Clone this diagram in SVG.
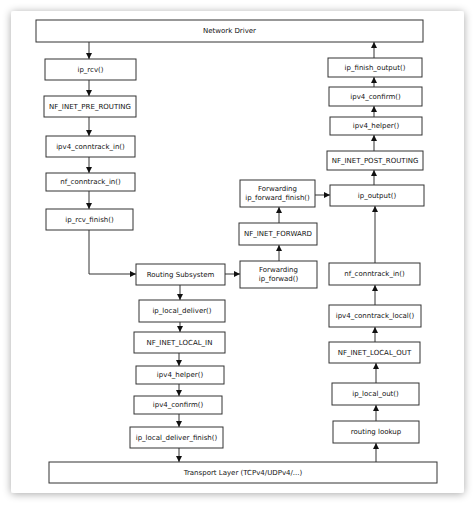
<svg xmlns="http://www.w3.org/2000/svg" width="474" height="505" viewBox="0 0 474 505">
<defs>
<filter id="sh" x="-5%" y="-5%" width="110%" height="110%">
<feGaussianBlur in="SourceAlpha" stdDeviation="4"/>
<feOffset dx="0" dy="1" result="b"/>
<feComponentTransfer><feFuncA type="linear" slope="0.35"/></feComponentTransfer>
<feMerge><feMergeNode/><feMergeNode in="SourceGraphic"/></feMerge>
</filter>
<marker id="ah" viewBox="0 0 8 8" refX="8" refY="4" markerWidth="6" markerHeight="6" markerUnits="userSpaceOnUse" orient="auto">
<path d="M0,0 L8,4 L0,8 z" fill="#111"/>
</marker>
<style>
.b{fill:#fff;stroke:#333;stroke-width:1}
.t{font-family:"DejaVu Sans",sans-serif;font-size:7px;fill:#111;text-anchor:middle;dominant-baseline:central}
.c{fill:none;stroke:#333;stroke-width:1;marker-end:url(#ah)}
</style>
</defs>
<rect width="474" height="505" fill="#fff"/>
<rect x="11" y="11" width="453" height="482" rx="3" fill="#fff" filter="url(#sh)"/>

<g id="connectors">
<line class="c" x1="89" y1="42" x2="89" y2="59"/>
<line class="c" x1="89" y1="80" x2="89" y2="96"/>
<line class="c" x1="89" y1="117" x2="89" y2="136"/>
<line class="c" x1="89" y1="157" x2="89" y2="173"/>
<line class="c" x1="89" y1="191" x2="89" y2="209"/>
<polyline class="c" points="89,230 89,274 136,274"/>
<line class="c" x1="225" y1="274" x2="240" y2="274"/>
<line class="c" x1="180" y1="285" x2="180" y2="300"/>
<line class="c" x1="180" y1="322" x2="180" y2="332"/>
<line class="c" x1="179" y1="353" x2="179" y2="366"/>
<line class="c" x1="179" y1="384" x2="179" y2="396"/>
<line class="c" x1="179" y1="414" x2="179" y2="427"/>
<line class="c" x1="179" y1="448" x2="179" y2="462"/>
<line class="c" x1="279" y1="261" x2="279" y2="245"/>
<line class="c" x1="279" y1="223" x2="279" y2="207"/>
<line class="c" x1="315" y1="195" x2="330" y2="195"/>
<line class="c" x1="376" y1="462" x2="376" y2="443"/>
<line class="c" x1="376" y1="421" x2="376" y2="405"/>
<line class="c" x1="376" y1="383" x2="376" y2="363"/>
<line class="c" x1="375" y1="342" x2="375" y2="327"/>
<line class="c" x1="375" y1="305" x2="375" y2="285"/>
<line class="c" x1="375" y1="263" x2="375" y2="206"/>
<line class="c" x1="374" y1="185" x2="374" y2="170"/>
<line class="c" x1="374" y1="151" x2="374" y2="135"/>
<line class="c" x1="374" y1="117" x2="374" y2="106"/>
<line class="c" x1="374" y1="87" x2="374" y2="77"/>
<line class="c" x1="374" y1="58" x2="374" y2="42"/>
</g>

<g id="network-driver"><rect class="b" x="36" y="20" width="387" height="22"/><text class="t" x="229.5" y="31">Network Driver</text></g>
<g id="ip-rcv"><rect class="b" x="45" y="59" width="91" height="21"/><text class="t" x="90.5" y="69.5">ip_rcv()</text></g>
<g id="nf-inet-pre-routing"><rect class="b" x="44" y="96" width="92" height="21"/><text class="t" x="90" y="106.5">NF_INET_PRE_ROUTING</text></g>
<g id="ipv4-conntrack-in"><rect class="b" x="46" y="136" width="89" height="21"/><text class="t" x="90.5" y="146.5">ipv4_conntrack_in()</text></g>
<g id="nf-conntrack-in-left"><rect class="b" x="46" y="173" width="89" height="18"/><text class="t" x="90.5" y="182">nf_conntrack_in()</text></g>
<g id="ip-rcv-finish"><rect class="b" x="46" y="209" width="87" height="21"/><text class="t" x="89.5" y="219.5">ip_rcv_finish()</text></g>
<g id="routing-subsystem"><rect class="b" x="136" y="264" width="89" height="21"/><text class="t" x="180.5" y="274.5">Routing Subsystem</text></g>
<g id="ip-local-deliver"><rect class="b" x="139" y="300" width="86" height="22"/><text class="t" x="182" y="311">ip_local_deliver()</text></g>
<g id="nf-inet-local-in"><rect class="b" x="134" y="332" width="91" height="21"/><text class="t" x="179.5" y="342.5">NF_INET_LOCAL_IN</text></g>
<g id="ipv4-helper-left"><rect class="b" x="136" y="366" width="88" height="18"/><text class="t" x="180" y="375">ipv4_helper()</text></g>
<g id="ipv4-confirm-left"><rect class="b" x="134" y="396" width="88" height="18"/><text class="t" x="178" y="405">ipv4_confirm()</text></g>
<g id="ip-local-deliver-finish"><rect class="b" x="130" y="427" width="93" height="21"/><text class="t" x="176.5" y="437.5">ip_local_deliver_finish()</text></g>
<g id="transport-layer"><rect class="b" x="49" y="462" width="388" height="21"/><text class="t" x="243" y="472.5">Transport Layer (TCPv4/UDPv4/...)</text></g>

<g id="forwarding-ip-forwad"><rect class="b" x="240" y="261" width="77" height="27"/><text class="t" x="278.5" y="270">Forwarding</text><text class="t" x="278.5" y="279">ip_forwad()</text></g>
<g id="nf-inet-forward"><rect class="b" x="239" y="223" width="78" height="22"/><text class="t" x="278" y="234">NF_INET_FORWARD</text></g>
<g id="forwarding-ip-forward-finish"><rect class="b" x="240" y="180" width="75" height="27"/><text class="t" x="277.5" y="189">Forwarding</text><text class="t" x="277.5" y="198">ip_forward_finish()</text></g>

<g id="ip-finish-output"><rect class="b" x="328" y="58" width="94" height="19"/><text class="t" x="375" y="67.5">ip_finish_output()</text></g>
<g id="ipv4-confirm-right"><rect class="b" x="329" y="87" width="93" height="19"/><text class="t" x="375.5" y="96.5">ipv4_confirm()</text></g>
<g id="ipv4-helper-right"><rect class="b" x="330" y="117" width="92" height="18"/><text class="t" x="376" y="126">ipv4_helper()</text></g>
<g id="nf-inet-post-routing"><rect class="b" x="327" y="151" width="96" height="19"/><text class="t" x="375" y="160.5">NF_INET_POST_ROUTING</text></g>
<g id="ip-output"><rect class="b" x="330" y="185" width="94" height="21"/><text class="t" x="377" y="195.5">ip_output()</text></g>
<g id="nf-conntrack-in-right"><rect class="b" x="329" y="263" width="91" height="22"/><text class="t" x="374.5" y="274">nf_conntrack_in()</text></g>
<g id="ipv4-conntrack-local"><rect class="b" x="329" y="305" width="92" height="22"/><text class="t" x="375" y="316">ipv4_conntrack_local()</text></g>
<g id="nf-inet-local-out"><rect class="b" x="329" y="342" width="91" height="21"/><text class="t" x="374.5" y="352.5">NF_INET_LOCAL_OUT</text></g>
<g id="ip-local-out"><rect class="b" x="332" y="383" width="87" height="22"/><text class="t" x="375.5" y="394">ip_local_out()</text></g>
<g id="routing-lookup"><rect class="b" x="333" y="421" width="86" height="22"/><text class="t" x="376" y="432">routing lookup</text></g>
</svg>
